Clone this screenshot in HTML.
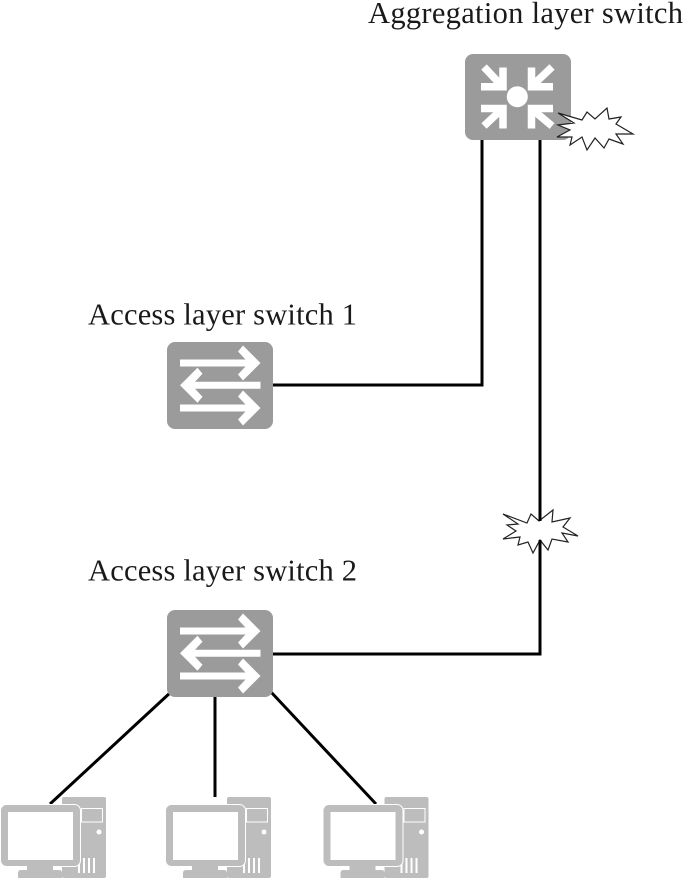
<!DOCTYPE html>
<html><head><meta charset="utf-8"><style>
html,body{margin:0;padding:0;background:#fff;width:685px;height:880px;overflow:hidden}
svg{display:block}
text{font-family:"Liberation Serif",serif;font-size:30.5px;fill:#1a1a1a}
</style></head><body>
<svg width="685" height="880" viewBox="0 0 685 880" xmlns="http://www.w3.org/2000/svg">
<defs>
<g id="sw">
<rect x="0" y="0" width="106" height="87" rx="8" fill="#9b9b9b"/>
<g fill="#fff">
<polygon points="76,3.500 93.500,21 76,38.500 71,32.500 78.500,24.500 13,24.500 13,17.500 78.500,17.500 71,9.500"/>
<polygon points="13,43.300 30.500,25.800 35.500,31.800 28,39.800 93.500,39.800 93.500,46.800 28,46.800 35.500,54.800 30.500,60.800"/>
<polygon points="76,48.500 93.500,66 76,83.500 71,77.500 78.500,69.500 13,69.500 13,62.500 78.500,62.500 71,54.500"/>
</g>
</g>
<g id="pc">
<rect x="62" y="797" width="44" height="81" rx="2" fill="#bdbdbd"/>
<rect x="81.500" y="808.500" width="21" height="13.500" fill="#bdbdbd" stroke="#fff" stroke-width="1"/>
<circle cx="99" cy="832" r="2.500" fill="#fff"/>
<g stroke="#fff" stroke-width="2"><path d="M84 858V873M89 858V873M94 858V873M79 862V873"/></g>
<rect x="0.500" y="804.500" width="80" height="62" rx="6" fill="#bdbdbd" stroke="#fff" stroke-width="1"/>
<rect x="8" y="812" width="65" height="48" fill="#fff"/>
<rect x="27" y="866" width="26" height="5" fill="#bdbdbd"/>
<path d="M21 870H59Q62 870 62 873V878H18V873Q18 870 21 870Z" fill="#bdbdbd"/>
</g>
</defs>

<g stroke="#000" stroke-width="3" fill="none">
<path d="M482 138V385H272"/>
<path d="M540 138V654H272"/>
<path d="M171 692L50 804"/>
<path d="M215 695V797"/>
<path d="M271 692L376 804"/>
</g>

<!-- aggregation switch -->
<rect x="465" y="54" width="106" height="86" rx="8" fill="#9b9b9b"/>
<circle cx="517.300" cy="96.700" r="10.500" fill="#fff"/>
<g fill="none" stroke="#fff">
<g stroke-width="7.500">
<path d="M481 86.700H503V67.500"/>
<path d="M553 86.700H531.500V67.500"/>
<path d="M481 108.500H503V128.500"/>
<path d="M553 108.500H531.500V128.500"/>
</g>
<g stroke-width="7.500">
<path d="M484 67L501 85"/>
<path d="M552 67L533 85"/>
<path d="M484 126L501 110"/>
<path d="M552 126L533 110"/>
</g>
</g>

<use href="#sw" x="167" y="342"/>
<use href="#sw" x="167" y="610"/>

<use href="#pc"/>
<use href="#pc" x="165"/>
<use href="#pc" x="322.500"/>

<!-- bursts -->
<polygon fill="#fff" stroke="#222" stroke-width="1.200" points="558,113 582,120 587,112 595,119 607,108 609,119 621,117 616,124 633,134 616,134 623,144 609,139 604,148 595,138 587,150 582,137 570,145 572,137 557,137 570,130 558,125 574,123"/>
<polygon fill="#fff" stroke="#222" stroke-width="1.200" points="503,514 527,523 531,514 539,521 553,510 552,522 570,518 563,527 578,536 562,533 568,542 552,539 548,550 540,540 533,553 528,542 518,545 520,537 503,539 516,531 507,525 518,524"/>
<path d="M540 500V521M540 540V560" stroke="#000" stroke-width="3" fill="none"/>

<text x="368" y="23" textLength="315" lengthAdjust="spacing">Aggregation layer switch</text>
<text x="88" y="324.500" textLength="269" lengthAdjust="spacing">Access layer switch 1</text>
<text x="88" y="580.500" textLength="269" lengthAdjust="spacing">Access layer switch 2</text>
</svg>
</body></html>
